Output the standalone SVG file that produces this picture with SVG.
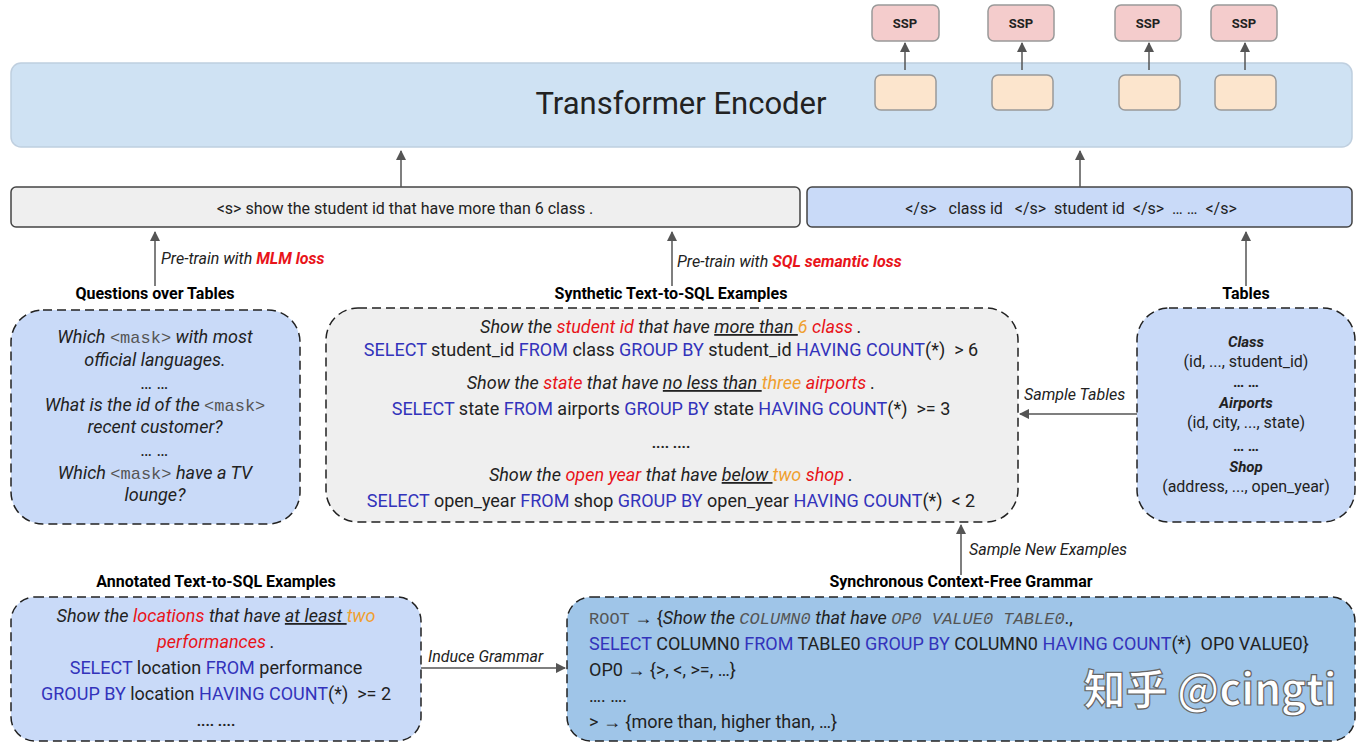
<svg xmlns="http://www.w3.org/2000/svg" width="1366" height="755" viewBox="0 0 1366 755">
<defs>
<marker id="ah" viewBox="0 0 10 10" refX="9" refY="5" markerWidth="7" markerHeight="7" orient="auto"><path d="M0,0L10,5L0,10z" fill="#555"/></marker>
<style>
text{font-family:Roboto,"Liberation Sans",sans-serif;fill:#222;white-space:pre}
.t{font-size:16px;font-weight:bold;text-anchor:middle;fill:#000}
.b{font-size:18px;text-anchor:middle}
.i{font-style:italic}
.k{fill:#3333bb}
.r{fill:#e8141a}
.o{fill:#f0a030}
.u{text-decoration:underline}
.m{font-family:"Liberation Mono",monospace;font-style:normal;font-size:17px;fill:#555}
.lab{font-size:16px;font-style:italic}
.dash{stroke:#222;stroke-width:1.5;stroke-dasharray:9,5}
.ssp{fill:#f4cccc;stroke:#999;stroke-width:1.5}
.tok{fill:#fce5cd;stroke:#999;stroke-width:1.5}
.c{stroke:#555;stroke-width:1.5;fill:none;marker-end:url(#ah)}
</style>
</defs>
<rect width="1366" height="755" fill="#fff"/>
<g id="encoder">
<rect x="11" y="63" width="1341" height="84" rx="10" fill="#cfe2f3" stroke="#bfcfdf" stroke-width="1.5"/>
<text x="681" y="114" style="font-size:31px;text-anchor:middle">Transformer Encoder</text>
<rect class="tok" x="875" y="75" width="61" height="35" rx="6"/>
<rect class="tok" x="992" y="75" width="61" height="35" rx="6"/>
<rect class="tok" x="1119" y="75" width="61" height="35" rx="6"/>
<rect class="tok" x="1215" y="75" width="61" height="35" rx="6"/>
</g>
<g id="ssp">
<rect class="ssp" x="872" y="5" width="67" height="36" rx="6"/><text x="905" y="28" style="font-size:13px;font-weight:bold;text-anchor:middle">SSP</text>
<rect class="ssp" x="988" y="5" width="66" height="36" rx="6"/><text x="1021" y="28" style="font-size:13px;font-weight:bold;text-anchor:middle">SSP</text>
<rect class="ssp" x="1115" y="5" width="66" height="36" rx="6"/><text x="1148" y="28" style="font-size:13px;font-weight:bold;text-anchor:middle">SSP</text>
<rect class="ssp" x="1211" y="5" width="66" height="36" rx="6"/><text x="1244" y="28" style="font-size:13px;font-weight:bold;text-anchor:middle">SSP</text>
</g>
<g id="input-question">
<rect x="11" y="187" width="789" height="40" rx="5" fill="#efefef" stroke="#444" stroke-width="1.5"/>
<text x="405" y="214" style="font-size:16px;text-anchor:middle">&lt;s&gt; show the student id that have more than 6 class .</text>
</g>
<g id="input-schema">
<rect x="807" y="187" width="545" height="40" rx="5" fill="#c9daf8" stroke="#444" stroke-width="1.5"/>
<text x="1071" y="214" style="font-size:16px;text-anchor:middle">&lt;/s&gt;   class id   &lt;/s&gt;  student id  &lt;/s&gt;  … …  &lt;/s&gt;</text>
</g>
<g id="connectors">
<line class="c" x1="905" y1="70" x2="905" y2="43"/>
<line class="c" x1="1022" y1="70" x2="1022" y2="43"/>
<line class="c" x1="1149" y1="70" x2="1149" y2="43"/>
<line class="c" x1="1245" y1="70" x2="1245" y2="43"/>
<line class="c" x1="401" y1="187" x2="401" y2="151"/>
<line class="c" x1="1080" y1="187" x2="1080" y2="151"/>
<line class="c" x1="155" y1="286" x2="155" y2="232"/>
<line class="c" x1="672" y1="286" x2="672" y2="232"/>
<line class="c" x1="1246" y1="286" x2="1246" y2="232"/>
<line class="c" x1="1137" y1="414" x2="1020" y2="414"/>
<line class="c" x1="961" y1="575" x2="961" y2="525"/>
<line class="c" x1="421" y1="668" x2="565" y2="668"/>
<text class="lab" x="161" y="264">Pre-train with <tspan class="r" style="font-weight:bold">MLM loss</tspan></text>
<text class="lab" x="677" y="267">Pre-train with <tspan class="r" style="font-weight:bold">SQL semantic loss</tspan></text>
<text class="lab" x="1024" y="400">Sample Tables</text>
<text class="lab" x="969" y="555">Sample New Examples</text>
<text class="lab" x="428" y="662">Induce Grammar</text>
</g>
<g id="questions">
<text class="t" x="155" y="299">Questions over Tables</text>
<rect class="dash" x="11" y="310" width="289" height="214" rx="32" fill="#c9daf8"/>
<text class="b i" x="155" y="343">Which <tspan class="m">&lt;mask&gt;</tspan> with most</text>
<text class="b i" x="155" y="366">official languages.</text>
<text class="b i" x="155" y="389">… …</text>
<text class="b i" x="155" y="411">What is the id of the <tspan class="m">&lt;mask&gt;</tspan></text>
<text class="b i" x="155" y="433">recent customer?</text>
<text class="b i" x="155" y="456">… …</text>
<text class="b i" x="155" y="479">Which <tspan class="m">&lt;mask&gt;</tspan> have a TV</text>
<text class="b i" x="155" y="501">lounge?</text>
</g>
<g id="synthetic">
<text class="t" x="671" y="299">Synthetic Text-to-SQL Examples</text>
<rect class="dash" x="326" y="308" width="692" height="214" rx="32" fill="#efefef"/>
<text class="b i" x="671" y="333">Show the <tspan class="r">student id</tspan> that have <tspan class="u">more than </tspan><tspan class="o">6</tspan><tspan class="r"> class</tspan> .</text>
<text class="b" x="671" y="356"><tspan class="k">SELECT</tspan> student_id <tspan class="k">FROM</tspan> class <tspan class="k">GROUP BY</tspan> student_id <tspan class="k">HAVING COUNT</tspan>(*)  &gt; 6</text>
<text class="b i" x="671" y="389">Show the <tspan class="r">state</tspan> that have <tspan class="u">no less than </tspan><tspan class="o">three</tspan><tspan class="r"> airports</tspan> .</text>
<text class="b" x="671" y="415"><tspan class="k">SELECT</tspan> state <tspan class="k">FROM</tspan> airports <tspan class="k">GROUP BY</tspan> state <tspan class="k">HAVING COUNT</tspan>(*)  &gt;= 3</text>
<text class="b" x="671" y="448" style="font-size:15px;font-weight:bold">.... ....</text>
<text class="b i" x="671" y="481">Show the <tspan class="r">open year</tspan> that have <tspan class="u">below </tspan><tspan class="o">two</tspan><tspan class="r"> shop</tspan> .</text>
<text class="b" x="671" y="507"><tspan class="k">SELECT</tspan> open_year <tspan class="k">FROM</tspan> shop <tspan class="k">GROUP BY</tspan> open_year <tspan class="k">HAVING COUNT</tspan>(*)  &lt; 2</text>
</g>
<g id="tables">
<text class="t" x="1246" y="299">Tables</text>
<rect class="dash" x="1137" y="308" width="218" height="214" rx="32" fill="#c9daf8"/>
<text x="1246" y="347" style="font-size:15px;font-weight:bold;font-style:italic;text-anchor:middle">Class</text>
<text x="1246" y="367" style="font-size:16px;text-anchor:middle">(id, ..., student_id)</text>
<text x="1246" y="387" style="font-size:15px;font-weight:bold;text-anchor:middle">… …</text>
<text x="1246" y="408" style="font-size:15px;font-weight:bold;font-style:italic;text-anchor:middle">Airports</text>
<text x="1246" y="428" style="font-size:16px;text-anchor:middle">(id, city, ..., state)</text>
<text x="1246" y="451" style="font-size:15px;font-weight:bold;text-anchor:middle">… …</text>
<text x="1246" y="472" style="font-size:15px;font-weight:bold;font-style:italic;text-anchor:middle">Shop</text>
<text x="1246" y="492" style="font-size:16px;text-anchor:middle">(address, ..., open_year)</text>
</g>
<g id="annotated">
<text class="t" x="216" y="587">Annotated Text-to-SQL Examples</text>
<rect class="dash" x="11" y="597" width="410" height="144" rx="24" fill="#c9daf8"/>
<text class="b i" x="216" y="622">Show the <tspan class="r">locations</tspan> that have <tspan class="u">at least </tspan><tspan class="o">two</tspan></text>
<text class="b i" x="216" y="648"><tspan class="r">performances</tspan> .</text>
<text class="b" x="216" y="674"><tspan class="k">SELECT</tspan> location <tspan class="k">FROM</tspan> performance</text>
<text class="b" x="216" y="700"><tspan class="k">GROUP BY</tspan> location <tspan class="k">HAVING COUNT</tspan>(*)  &gt;= 2</text>
<text class="b" x="216" y="726" style="font-size:15px;font-weight:bold">.... ....</text>
</g>
<g id="grammar">
<text class="t" x="961" y="587">Synchronous Context-Free Grammar</text>
<rect class="dash" x="567" y="597" width="788" height="144" rx="24" fill="#9fc5e8"/>
<text x="589" y="624" style="font-size:18px"><tspan class="m">ROOT</tspan> → {<tspan class="i">Show the </tspan><tspan class="m" style="font-style:italic">COLUMN0</tspan><tspan class="i"> that have </tspan><tspan class="m" style="font-style:italic">OP0 VALUE0 TABLE0</tspan>.,</text>
<text x="589" y="650" style="font-size:18px"><tspan class="k">SELECT</tspan> COLUMN0 <tspan class="k">FROM</tspan> TABLE0 <tspan class="k">GROUP BY</tspan> COLUMN0 <tspan class="k">HAVING COUNT</tspan>(*)  OP0 VALUE0}</text>
<text x="589" y="676" style="font-size:18px">OP0 → {&gt;, &lt;, &gt;=, …}</text>
<text x="589" y="702" style="font-size:18px">…. ….</text>
<text x="589" y="728" style="font-size:18px">&gt; → {more than, higher than, …}</text>
<text x="1210" y="705" style="font-size:42px;font-weight:bold;text-anchor:middle;fill:#fff;stroke:#666;stroke-width:1.2;font-family:'Noto Sans CJK SC',Roboto,sans-serif">知乎 @cingti</text>
</g>
</svg>
